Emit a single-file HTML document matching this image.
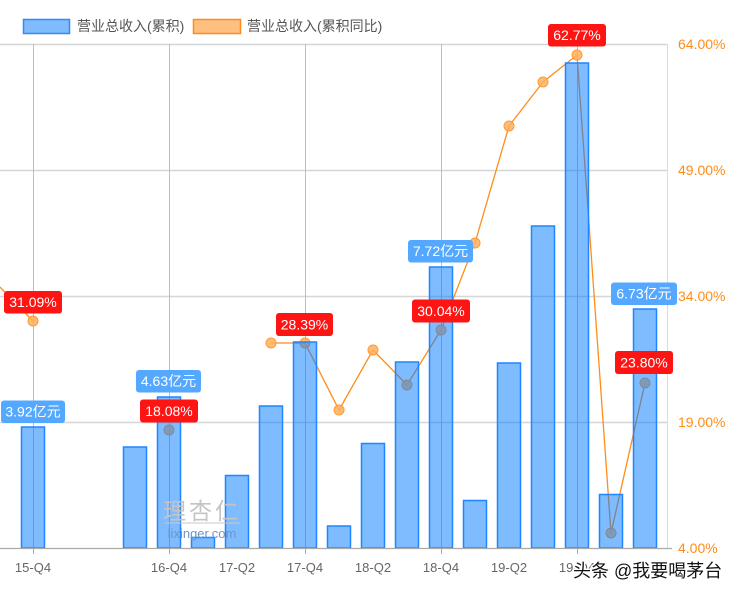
<!DOCTYPE html>
<html>
<head>
<meta charset="utf-8">
<style>
html,body{margin:0;padding:0;background:#fff;}
body{width:743px;height:594px;overflow:hidden;}
svg{display:block;}
text{font-family:"Liberation Sans","Noto Sans CJK SC",sans-serif;}
</style>
</head>
<body>
<svg width="743" height="594" viewBox="0 0 743 594" xmlns="http://www.w3.org/2000/svg">
  <rect x="0" y="0" width="743" height="594" fill="#fff"/>

  <!-- Legend -->
  <rect x="23.5" y="19.5" width="46" height="14" fill="#80bbff" stroke="#2b8cff" stroke-width="1.5"/>
  <text x="77" y="31" font-size="14" fill="#555">营业总收入(累积)</text>
  <rect x="193.5" y="19.5" width="47" height="14" fill="#ffbf80" stroke="#ff8c1a" stroke-width="1.5"/>
  <text x="247" y="31" font-size="14" fill="#555">营业总收入(累积同比)</text>

  <!-- Horizontal grid -->
  <g stroke="#d6d6d6" stroke-width="1.5">
    <line x1="0" y1="44.5" x2="667" y2="44.5"/>
    <line x1="0" y1="170.5" x2="667" y2="170.5"/>
    <line x1="0" y1="296.5" x2="667" y2="296.5"/>
    <line x1="0" y1="422.5" x2="667" y2="422.5"/>
  </g>
  <line x1="667.5" y1="44" x2="667.5" y2="548" stroke="#dcdcdc" stroke-width="1"/>

  <!-- Vertical grid -->
  <g stroke="#bdbdbd" stroke-width="1">
    <line x1="33.5" y1="44" x2="33.5" y2="548"/>
    <line x1="169.5" y1="44" x2="169.5" y2="548"/>
    <line x1="305.5" y1="44" x2="305.5" y2="548"/>
    <line x1="441.5" y1="44" x2="441.5" y2="548"/>
    <line x1="577.5" y1="44" x2="577.5" y2="548"/>
  </g>

  <!-- Line series (behind bars) -->
  <g fill="none" stroke="#ff8c1a" stroke-width="1.3" stroke-linejoin="round">
    <polyline points="-1,286 33,321"/>
    <polyline points="271,343 305,343 339,410 373,350 407,385 441,330 475,243 509,126 543,82 577,55 611,533 645,383"/>
  </g>
  <g fill="#ffb060" stroke="#ff9a33" stroke-width="1" fill-opacity="0.85">
    <circle cx="33" cy="321" r="5"/>
    <circle cx="169" cy="430" r="5"/>
    <circle cx="271" cy="343" r="5"/>
    <circle cx="305" cy="343" r="5"/>
    <circle cx="339" cy="410" r="5"/>
    <circle cx="373" cy="350" r="5"/>
    <circle cx="407" cy="385" r="5"/>
    <circle cx="441" cy="330" r="5"/>
    <circle cx="475" cy="243" r="5"/>
    <circle cx="509" cy="126" r="5"/>
    <circle cx="543" cy="82" r="5"/>
    <circle cx="577" cy="55" r="5"/>
    <circle cx="611" cy="533" r="5"/>
    <circle cx="645" cy="383" r="5"/>
  </g>

  <!-- Bars -->
  <g fill="rgba(0,122,255,0.5)" stroke="#1f86ff" stroke-width="1.5">
    <rect x="21.5" y="427" width="23" height="121"/>
    <rect x="123.5" y="447" width="23" height="101"/>
    <rect x="157.5" y="397" width="23" height="151"/>
    <rect x="191.5" y="537.5" width="23" height="10.5"/>
    <rect x="225.5" y="475.5" width="23" height="72.5"/>
    <rect x="259.5" y="406" width="23" height="142"/>
    <rect x="293.5" y="342" width="23" height="206"/>
    <rect x="327.5" y="526" width="23" height="22"/>
    <rect x="361.5" y="443.5" width="23" height="104.5"/>
    <rect x="395.5" y="362" width="23" height="186"/>
    <rect x="429.5" y="267" width="23" height="281"/>
    <rect x="463.5" y="500.5" width="23" height="47.5"/>
    <rect x="497.5" y="363" width="23" height="185"/>
    <rect x="531.5" y="226" width="23" height="322"/>
    <rect x="565.5" y="63" width="23" height="485"/>
    <rect x="599.5" y="494.5" width="23" height="53.5"/>
    <rect x="633.5" y="309" width="23" height="239"/>
  </g>

  <!-- Bottom axis -->
  <line x1="0" y1="548.5" x2="672" y2="548.5" stroke="#aaaaaa" stroke-width="1.2"/>
  <g stroke="#aaaaaa" stroke-width="1">
    <line x1="33.5" y1="548" x2="33.5" y2="554"/>
    <line x1="169.5" y1="548" x2="169.5" y2="554"/>
    <line x1="305.5" y1="548" x2="305.5" y2="554"/>
    <line x1="441.5" y1="548" x2="441.5" y2="554"/>
    <line x1="577.5" y1="548" x2="577.5" y2="554"/>
  </g>
  <g font-size="13" fill="#666" text-anchor="middle">
    <text x="33" y="572">15-Q4</text>
    <text x="169" y="572">16-Q4</text>
    <text x="237" y="572">17-Q2</text>
    <text x="305" y="572">17-Q4</text>
    <text x="373" y="572">18-Q2</text>
    <text x="441" y="572">18-Q4</text>
    <text x="509" y="572">19-Q2</text>
    <text x="577" y="572">19-Q4</text>
  </g>

  <!-- Right axis labels -->
  <g font-size="14" fill="#ff8c1a">
    <text x="678" y="49">64.00%</text>
    <text x="678" y="175">49.00%</text>
    <text x="678" y="301">34.00%</text>
    <text x="678" y="427">19.00%</text>
    <text x="678" y="553">4.00%</text>
  </g>

  <!-- Watermark lixinger -->
  <text x="202" y="519" font-size="23" fill="#c4c4c4" text-anchor="middle" letter-spacing="3" font-family="'Noto Serif CJK SC','Noto Sans CJK SC',serif">理杏仁</text>
  <line x1="165" y1="523" x2="240" y2="523" stroke="#c8c8c8" stroke-width="1"/>
  <text x="202" y="538" font-size="13" fill="#6f94c8" text-anchor="middle">lixinger.com</text>

  <!-- Data labels -->
  <g font-size="14" fill="#fff" text-anchor="middle">
    <rect x="4" y="291" width="58" height="22.5" rx="3" fill="#ff1414"/>
    <text x="33" y="307">31.09%</text>

    <rect x="1" y="400.5" width="64" height="22.5" rx="3" fill="#55a8ff"/>
    <text x="33" y="416.5">3.92亿元</text>

    <rect x="136" y="370" width="65" height="22.5" rx="3" fill="#55a8ff"/>
    <text x="168.5" y="386">4.63亿元</text>

    <rect x="140" y="399.5" width="58" height="23" rx="3" fill="#ff1414"/>
    <text x="169" y="416">18.08%</text>

    <rect x="276" y="313" width="57" height="23" rx="3" fill="#ff1414"/>
    <text x="304.5" y="329.5">28.39%</text>

    <rect x="408" y="240" width="65" height="22.5" rx="3" fill="#55a8ff"/>
    <text x="440.5" y="256">7.72亿元</text>

    <rect x="412" y="299.5" width="58" height="23" rx="3" fill="#ff1414"/>
    <text x="441" y="316">30.04%</text>

    <rect x="548" y="24" width="58" height="22.5" rx="3" fill="#ff1414"/>
    <text x="577" y="40">62.77%</text>

    <rect x="611" y="282.5" width="66" height="22.5" rx="3" fill="#55a8ff"/>
    <text x="644" y="298.5">6.73亿元</text>

    <rect x="615" y="351" width="58" height="23" rx="3" fill="#ff1414"/>
    <text x="644" y="367.5">23.80%</text>
  </g>

  <!-- Toutiao watermark -->
  <text x="573" y="577" font-size="18" fill="#111" stroke="#fff" stroke-width="3" paint-order="stroke" stroke-linejoin="round">头条 @我要喝茅台</text>
</svg>
</body>
</html>
